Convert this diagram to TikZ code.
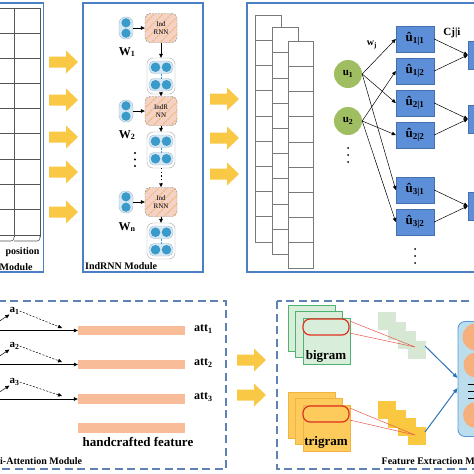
\documentclass[tikz,border=0pt]{standalone}
\usepackage{fontspec}
\setmainfont{Liberation Serif}
\usetikzlibrary{arrows.meta,patterns.meta,calc}
\definecolor{panelblue}{HTML}{4A7FC4}
\definecolor{dashblue}{HTML}{5F82B4}
\definecolor{gold}{HTML}{F9C845}
\definecolor{barc}{HTML}{F8BD98}
\definecolor{uboxf}{HTML}{5D8ED8}
\definecolor{uboxd}{HTML}{4570B0}
\definecolor{ucircf}{HTML}{9FBE62}
\definecolor{pinkc}{HTML}{F4D2C6}
\definecolor{stripec}{HTML}{F2B46E}
\definecolor{dotc}{HTML}{3A9BCB}
\definecolor{pillf}{HTML}{D7E8F2}
\definecolor{pilld}{HTML}{9DB9CF}
\definecolor{gsqf}{HTML}{D8EEDB}
\definecolor{gsqd}{HTML}{4DB36E}
\definecolor{osqf}{HTML}{FCCB5C}
\definecolor{osqd}{HTML}{F2B440}
\definecolor{redc}{HTML}{E0301F}
\definecolor{gstair}{HTML}{D6E8D3}
\definecolor{ostair}{HTML}{F9C740}
\definecolor{capf}{HTML}{BCDDEB}
\definecolor{capd}{HTML}{5B9BD5}
\definecolor{orc}{HTML}{F5B07E}
\definecolor{arrblue}{HTML}{2E75B6}
\definecolor{gridc}{HTML}{555555}
\definecolor{cellc}{HTML}{7A7A7A}
\tikzset{
  panel/.style={draw=panelblue, line width=1.3pt},
  dpanel/.style={draw=dashblue, line width=1.1pt, dash pattern=on 8pt off 4.5pt},
  yarrow/.pic={\fill[gold] (0,-5.5) -- (17,-5.5) -- (17,-11.5) -- (29,0) -- (17,11.5) -- (17,5.5) -- (0,5.5) -- cycle;},
  arr/.style={-{Triangle[length=4pt,width=3.6pt]}, line width=0.5pt},
  darr/.style={-{Triangle[length=4pt,width=3.6pt]}, line width=0.5pt, dash pattern=on 2pt off 1.5pt},
  barr/.style={-{Triangle[length=5pt,width=4pt]}, line width=1pt, draw=arrblue, arrblue},
  gridl/.style={draw=gridc, line width=0.6pt},
  cell/.style={draw=cellc, fill=white, line width=0.6pt},
  ind/.style={draw=gray, dash pattern=on 2pt off 1pt, rounded corners=5pt, minimum width=32pt, minimum height=29pt,
    fill=pinkc, postaction={pattern={Lines[angle=45,distance=6pt,line width=1pt]}, pattern color=stripec},
    font=\fontsize{7}{7.5}\selectfont, align=center, inner sep=0pt},
  vpill/.style={draw=pilld, fill=pillf, rounded corners=6.5pt, minimum width=14pt, minimum height=22pt, inner sep=0pt,
    path picture={\fill[dotc] ([yshift=5.2pt]path picture bounding box.center) circle (4.6pt);
                  \fill[dotc] ([yshift=-5.2pt]path picture bounding box.center) circle (4.6pt);}},
  capsule/.style={draw=gray!70, fill=white, rounded corners=6pt, minimum width=28pt, minimum height=36pt, inner sep=0pt,
    path picture={
      \filldraw[draw=pilld, fill=pillf, rounded corners=5pt] ([shift={(-12pt,2.5pt)}]path picture bounding box.center) rectangle ([shift={(12pt,15pt)}]path picture bounding box.center);
      \filldraw[draw=pilld, fill=pillf, rounded corners=5pt] ([shift={(-12pt,-15pt)}]path picture bounding box.center) rectangle ([shift={(12pt,-2.5pt)}]path picture bounding box.center);
      \fill[dotc] ([shift={(-5.5pt,8.75pt)}]path picture bounding box.center) circle (4.8pt);
      \fill[dotc] ([shift={(5.5pt,8.75pt)}]path picture bounding box.center) circle (4.8pt);
      \fill[dotc] ([shift={(-5.5pt,-8.75pt)}]path picture bounding box.center) circle (4.8pt);
      \fill[dotc] ([shift={(5.5pt,-8.75pt)}]path picture bounding box.center) circle (4.8pt);
      \draw[dotc, line width=0.4pt, dash pattern=on 0.8pt off 0.8pt] ([yshift=2.5pt]path picture bounding box.center) -- ([yshift=-2.5pt]path picture bounding box.center);}},
  ubox/.style={draw=uboxd, fill=uboxf, minimum width=38pt, minimum height=26pt, inner sep=0pt, font=\bfseries\fontsize{13}{13}\selectfont},
  ucirc/.style={circle, fill=ucircf, minimum size=28pt, inner sep=0pt, font=\bfseries\fontsize{11}{11}\selectfont},
  title/.style={font=\bfseries\fontsize{10}{10}\selectfont, inner sep=0pt},
  lab/.style={font=\bfseries\fontsize{10}{10}\selectfont, inner sep=0pt},
  wlab/.style={font=\bfseries\fontsize{12}{12}\selectfont, inner sep=0pt},
  big/.style={font=\bfseries\fontsize{13}{13}\selectfont, inner sep=0pt},
  bar/.style={fill=barc, minimum width=107pt, minimum height=9.5pt, inner sep=0pt},
  redpill/.style={draw=redc, line width=1.2pt, rounded corners=7pt, minimum width=46pt, minimum height=16pt, inner sep=0pt},
  redl/.style={draw=redc!80, line width=0.5pt},
}
\begin{document}
\begin{tikzpicture}[x=1pt,y=-1pt]
\useasboundingbox (0,0) rectangle (474,474);
\clip (0,0) rectangle (474,474);
\fill[white] (0,0) rectangle (474,474);

% ---------- panel 1 (grid) ----------
\draw[panel] (-5,3) rectangle (43.5,272);
\foreach \yy in {8,33,58,83,108.5,133.5,159,184,209,235} \draw[gridl] (-2,\yy) -- (40,\yy);
\draw[gridl] (14,8) -- (14,237);
\draw[gridl] (40,8) -- (40,237);
\draw[gridl, rounded corners=3pt] (-3,235) |- (14,241) -- (14,237);
\draw[gridl, rounded corners=3pt] (14,241) -| (40,235);
\node[lab] (pos) at (22.5,252) {position};
\node[title, anchor=west] (m1) at (-0.5,267) {Module};

\foreach \yy in {62,100,137,172,212} \pic at (49,\yy) {yarrow};

% ---------- panel 2 (IndRNN) ----------
\draw[panel] (83,3) rectangle (203,272);
\node[ind] (r1) at (161,28) {Ind\\RNN};
\node[capsule] (c1) at (161,76) {};
\node[ind] (r2) at (161,111) {IndR\\NN};
\node[capsule] (c2) at (161,150) {};
\node[ind] (r3) at (161,202) {Ind\\RNN};
\node[capsule] (c3) at (161,241) {};
\node[vpill] (p1) at (126,28) {};
\node[vpill] (p2) at (126,111) {};
\node[vpill] (p3) at (126,202) {};
\draw[arr] (p1) -- (r1);
\draw[arr] (p2) -- (r2);
\draw[arr] (p3) -- (r3);
\draw[arr] (r1) -- (c1);
\draw[arr] (c1) -- (r2);
\draw[arr] (r2) -- (c2);
\draw[arr, line width=1pt, dash pattern=on 1.2pt off 2.4pt] (c2) -- (r3);
\draw[arr] (r3) -- (c3);
\node[wlab] (w1) at (127,52) {W\textsubscript{1}};
\node[wlab] (w2) at (127,135) {W\textsubscript{2}};
\node[wlab] (wn) at (127,227) {W\textsubscript{n}};
\foreach \yy in {153,159.5,166} \fill (135,\yy) circle (1.1);
\node[title, anchor=west] (m2) at (85,266) {IndRNN Module};

\foreach \yy in {99,138,174} \pic at (210,\yy) {yarrow};

% ---------- panel 3 (capsules) ----------
\draw[panel] (247,3) rectangle (480,272);
\foreach \x/\w/\t in {255/26/15, 272/26/27.5, 288/25/41} {
  \foreach \i in {0,...,8} { \draw[cell] ({\x},{\t+\i*25.2}) rectangle ++(\w,25.2); }
}
\node[ucirc] (u1) at (348,74) {u\textsubscript{1}};
\node[ucirc] (u2) at (348,121) {u\textsubscript{2}};
\foreach \yy in {148,155,162} \fill (348,\yy) circle (1);
\node[lab] (wj) at (372,45) {w\textsubscript{j}};
\node[ubox] (q11) at (415,39) {û\textsubscript{1|1}};
\node[ubox] (q12) at (415,71) {û\textsubscript{1|2}};
\node[ubox] (q21) at (415,103) {û\textsubscript{2|1}};
\node[ubox] (q22) at (415,135) {û\textsubscript{2|2}};
\node[ubox] (q31) at (415,190) {û\textsubscript{3|1}};
\node[ubox] (q32) at (415,222) {û\textsubscript{3|2}};
\foreach \yy in {249,256,263} \fill (415,\yy) circle (1);
\node[ubox, minimum width=28pt, minimum height=28pt] (v1) at (482,55) {};
\node[ubox, minimum width=28pt, minimum height=28pt] (v2) at (482,119) {};
\node[ubox, minimum width=28pt, minimum height=28pt] (v3) at (482,206) {};
\node[font=\bfseries\fontsize{11}{11}\selectfont, inner sep=0pt] (cji) at (452,33) {Cj|i};
\draw[arr] (u1.east) -- (q11.west);
\draw[arr] (u1.east) -- (q21.west);
\draw[arr] (u1.east) -- (q31.west);
\draw[arr] (u2.east) -- (q12.west);
\draw[arr] (u2.east) -- (q22.west);
\draw[arr] (u2.east) -- (q32.west);
\draw[arr] (q11.east) -- (v1.west);
\draw[arr] (q12.east) -- (v1.west);
\draw[arr] (q21.east) -- (v2.west);
\draw[arr] (q22.east) -- (v2.west);
\draw[arr] (q31.east) -- (v3.west);
\draw[arr] (q32.east) -- (v3.west);

% ---------- bottom left (attention) ----------
\draw[dpanel] (-5,301) rectangle (226,469);
\node[bar] (b1) at (131.5,330.5) {};
\node[bar] (b2) at (131.5,364.5) {};
\node[bar] (b3) at (131.5,399) {};
\node[bar] (b4) at (131,428) {};
\node[lab, font=\bfseries\fontsize{11}{11}\selectfont] (a1) at (14.5,311) {a\textsubscript{1}};
\node[lab, font=\bfseries\fontsize{11}{11}\selectfont] (a2) at (14.5,346) {a\textsubscript{2}};
\node[lab, font=\bfseries\fontsize{11}{11}\selectfont] (a3) at (14.5,382) {a\textsubscript{3}};
\coordinate (s1) at (-2,330.5);
\coordinate (s2) at (-2,364.5);
\coordinate (s3) at (-2,399);
\draw[arr] (s1) -- (b1.west);
\draw[arr] (s2) -- (b2.west);
\draw[arr] (s3) -- (b3.west);
\coordinate (e1) at (-2,322);
\coordinate (e2) at (-2,357);
\coordinate (e3) at (-2,393);
\draw[arr] (e1) -- (a1.south west);
\draw[arr] (e2) -- (a2.south west);
\draw[arr] (e3) -- (a3.south west);
\coordinate (d1) at (62,328);
\coordinate (d2) at (62,362);
\coordinate (d3) at (62,396);
\draw[darr] (a1.east) -- (d1);
\draw[darr] (a2.east) -- (d2);
\draw[darr] (a3.east) -- (d3);
\node[big, font=\bfseries\fontsize{12}{12}\selectfont, anchor=west] (t1) at (194,329) {att\textsubscript{1}};
\node[big, font=\bfseries\fontsize{12}{12}\selectfont, anchor=west] (t2) at (194,363) {att\textsubscript{2}};
\node[big, font=\bfseries\fontsize{12}{12}\selectfont, anchor=west] (t3) at (194,397) {att\textsubscript{3}};
\node[big] (hf) at (138,442) {handcrafted feature};
\node[title, anchor=west] (m4) at (0,461) {i-Attention Module};

\foreach \yy in {360,395} \pic at (237,\yy) {yarrow};

% ---------- bottom right (feature extraction) ----------
\draw[dpanel] (277,301) rectangle (480,469);
\foreach \d/\e in {0/0,7.5/6.5,15/13} \filldraw[draw=gsqd, fill=gsqf, line width=0.9pt] ({288+\d},{305+\e}) rectangle ++(47,46);
\foreach \d/\e in {0/0,7.5/6.5,15/13} \filldraw[draw=osqd, fill=osqf, line width=0.9pt] ({288+\d},{392+\e}) rectangle ++(47,46);
\node[redpill, fill=gsqf] (rp1) at (326,327) {};
\node[redpill, fill=osqf] (rp2) at (326,414) {};
\node[big] (bg) at (326,356) {bigram};
\node[big] (tg) at (326,442) {trigram};
\foreach \i in {0,...,3} \fill[gstair] ({378+10*\i},{312+9.7*\i}) rectangle ++(18,18);
\foreach \i in {0,...,3} \fill[ostair] ({378+10*\i},{401+8.7*\i}) rectangle ++(18,18);
\coordinate (f1) at (415,347);
\coordinate (f2) at (415,435);
\draw[redl] ([yshift=6pt]rp1.east) -- (f1);
\draw[redl] ([yshift=-6pt]rp1.east) -- (f1);
\draw[redl] ([yshift=6pt]rp2.east) -- (f2);
\draw[redl] ([yshift=-6pt]rp2.east) -- (f2);
\node[draw=capd, fill=capf, line width=0.9pt, rounded corners=7pt, minimum width=32pt, minimum height=115pt, inner sep=0pt] (cb) at (474,379) {};
\fill[orc] (476,337) circle (13.5);
\fill[orc] (476,365) circle (12.5);
\fill[orc] (476,415) circle (13);
\foreach \yy in {384,391,398} \draw[line width=1pt] (468,\yy) -- (474,\yy);
\coordinate (g1) at (425,346);
\coordinate (g2) at (425,432);
\draw[barr] (g1) -- ([yshift=1pt]cb.west);
\draw[barr] (g2) -- ([yshift=-9pt]cb.west);
\node[title, anchor=east] (m5) at (475,461) {Feature Extraction M};
\end{tikzpicture}
\end{document}
